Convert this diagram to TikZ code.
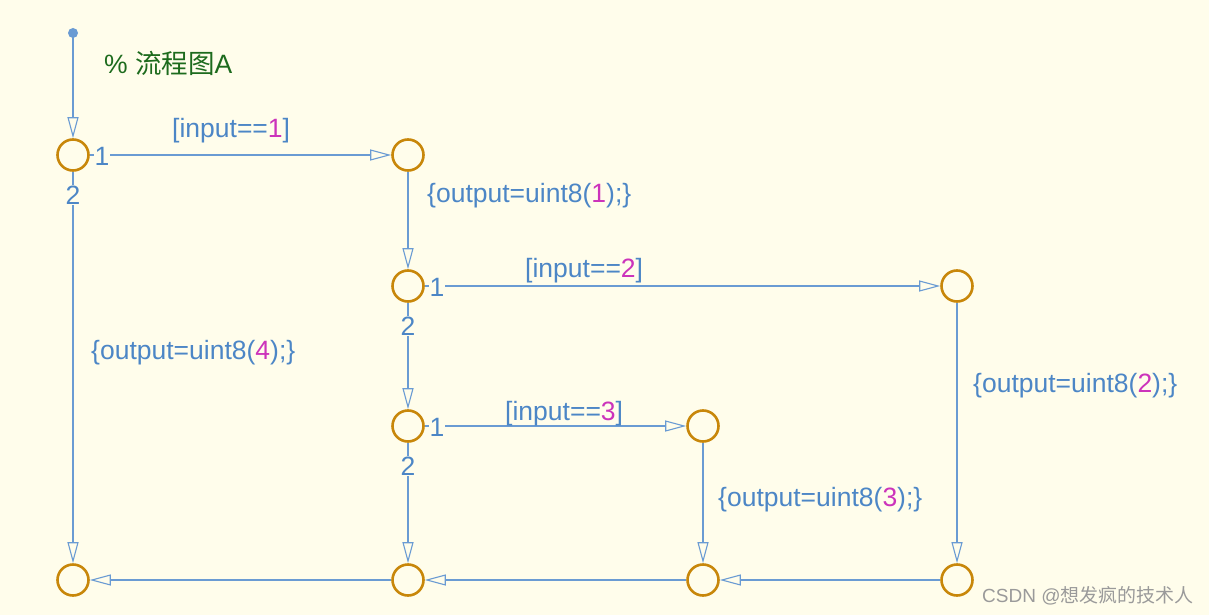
\documentclass[tikz,border=0pt]{standalone}
\usepackage{fontspec}
\setmainfont{Liberation Sans}
\newfontfamily\cjk{Noto Sans CJK SC}
\usetikzlibrary{arrows.meta}
\definecolor{bg}{HTML}{FFFDEB}
\definecolor{ln}{HTML}{6A9BD3}
\definecolor{tx}{HTML}{4C86C6}
\definecolor{mg}{HTML}{CC33BB}
\definecolor{og}{HTML}{C8870A}
\definecolor{gr}{HTML}{1D6B1D}
\definecolor{wm}{HTML}{9A9A9A}
\tikzset{
  junc/.style={circle,draw=og,line width=2.6pt,minimum size=31pt,inner sep=0pt,fill=bg},
  conn/.style={draw=ln,line width=1.1pt,-{Triangle[open,length=21pt,width=11pt,line width=1.1pt]}},
  lbl/.style={text=tx,font=\fontsize{26.5}{30}\selectfont,inner sep=0pt},
  num/.style={text=tx,font=\fontsize{26.5}{30}\selectfont,fill=bg,inner sep=1pt},
}
\begin{document}
\begin{tikzpicture}[x=1pt,y=-1pt]
\useasboundingbox[fill=bg] (0,0) rectangle (1209,615);
\fill[ln] (73,33) circle (5pt);
\coordinate (S) at (73,33);
\node[junc] (A) at (73,155) {};
\node[junc] (B) at (408,155) {};
\node[junc] (C) at (408,286) {};
\node[junc] (D) at (957,286) {};
\node[junc] (E) at (408,426) {};
\node[junc] (F) at (703,426) {};
\node[junc] (G1) at (73,580) {};
\node[junc] (G2) at (408,580) {};
\node[junc] (G3) at (703,580) {};
\node[junc] (G4) at (957,580) {};
\draw[conn] (S) -- (A.north);
\draw[conn] (A.east) -- (B.west);
\draw[conn] (B.south) -- (C.north);
\draw[conn] (C.east) -- (D.west);
\draw[conn] (C.south) -- (E.north);
\draw[conn] (E.east) -- (F.west);
\draw[conn] (E.south) -- (G2.north);
\draw[conn] (F.south) -- (G3.north);
\draw[conn] (D.south) -- (G4.north);
\draw[conn] (A.south) -- (G1.north);
\draw[conn] (G4.west) -- (G3.east);
\draw[conn] (G3.west) -- (G2.east);
\draw[conn] (G2.west) -- (G1.east);
\node[num] (n1) at (102,156) {1};
\node[num] (n2) at (73,195) {2};
\node[num] (n3) at (437,287) {1};
\node[num] (n4) at (408,326) {2};
\node[num] (n5) at (437,427) {1};
\node[num] (n6) at (408,466) {2};
\node[lbl,anchor=west] (l1) at (172,131) {[input==\textcolor{mg}{1}]};
\node[lbl,anchor=west] (l2) at (427,196) {\{output=uint8(\textcolor{mg}{1});\}};
\node[lbl,anchor=west] (l3) at (525,271) {[input==\textcolor{mg}{2}]};
\node[lbl,anchor=west] (l4) at (91,353) {\{output=uint8(\textcolor{mg}{4});\}};
\node[lbl,anchor=west] (l5) at (973,386) {\{output=uint8(\textcolor{mg}{2});\}};
\node[lbl,anchor=west] (l6) at (505,414) {[input==\textcolor{mg}{3}]};
\node[lbl,anchor=west] (l7) at (718,500) {\{output=uint8(\textcolor{mg}{3});\}};
\node[anchor=west,inner sep=0pt,text=gr,font=\fontsize{26.5}{30}\selectfont] (t) at (104,63) {\% {\cjk 流程图}A};
\node[anchor=west,inner sep=0pt,text=wm,font=\fontsize{19}{23}\selectfont] (w) at (982,596) {CSDN @{\cjk 想发疯的技术人}};
\end{tikzpicture}
\end{document}
